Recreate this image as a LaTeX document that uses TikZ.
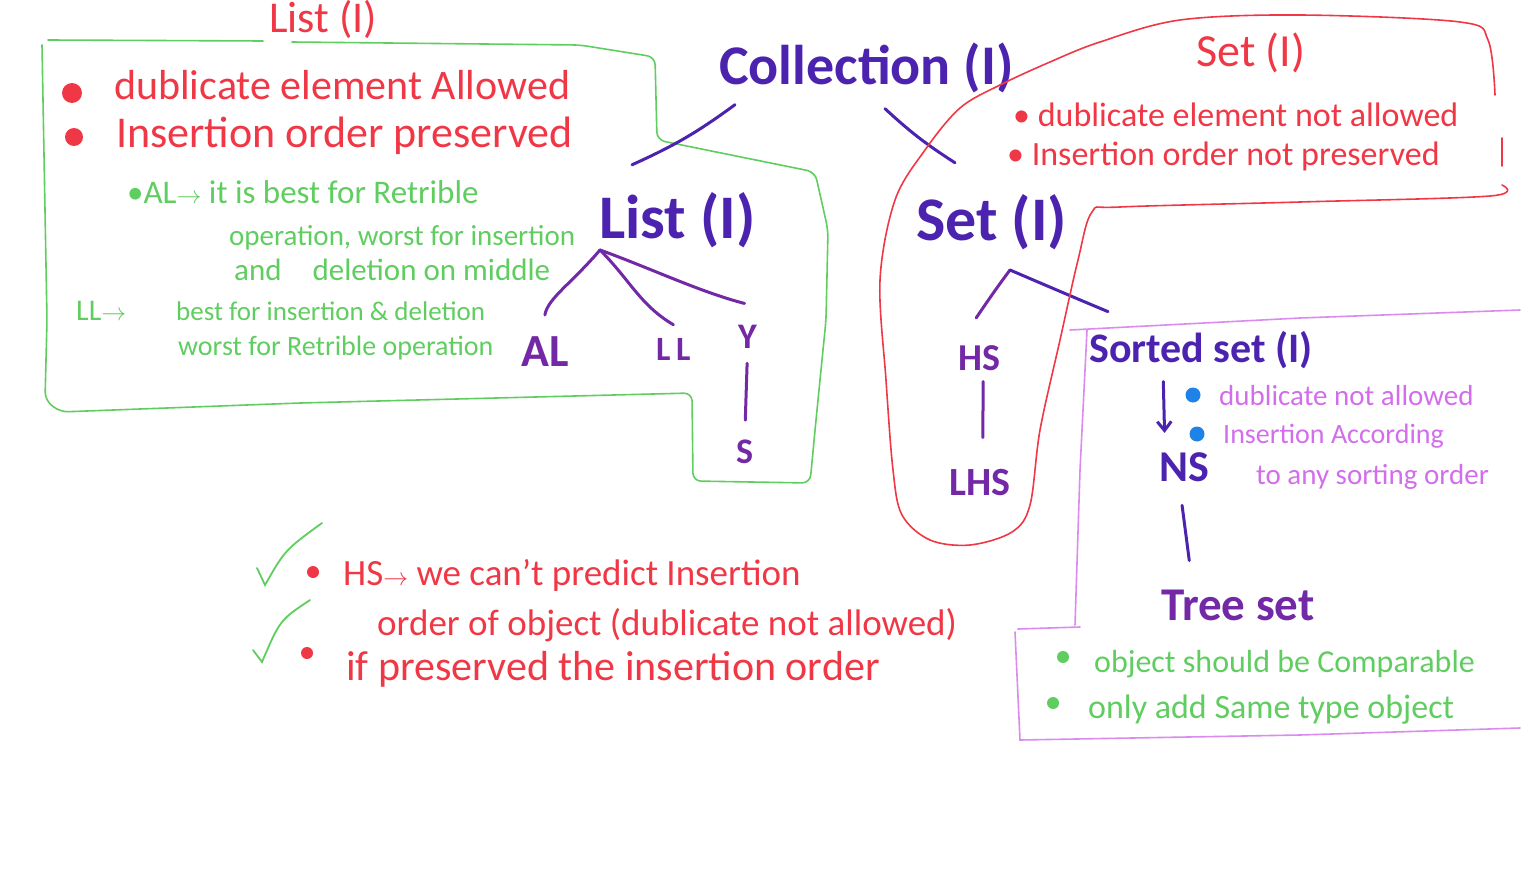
\documentclass[tikz,border=0pt]{standalone}
\usepackage{fontspec}
\setmainfont{Carlito}
\usepackage{xcolor}
\definecolor{penred}{RGB}{240,55,70}
\definecolor{pengreen}{RGB}{95,205,95}
\definecolor{penpurple}{RGB}{75,35,175}
\definecolor{penviolet}{RGB}{115,40,165}
\definecolor{penpink}{RGB}{210,110,235}
\definecolor{penblue}{RGB}{30,130,230}
\usepackage{tikz}
\usetikzlibrary{arrows.meta, positioning, calc}
\newcommand{\penfont}[1]{\fontsize{#1}{#1}\selectfont}
\tikzset{
  redtxt/.style={anchor=base west, inner sep=1pt, text=penred, font=\penfont{#1}},
  greentxt/.style={anchor=base west, inner sep=1pt, text=pengreen, font=\penfont{#1}},
  pinktxt/.style={anchor=base west, inner sep=1pt, text=penpink, font=\penfont{#1}},
  headtxt/.style={anchor=base west, inner sep=1pt, text=penpurple, font=\bfseries\penfont{#1}},
  leaftxt/.style={anchor=base west, inner sep=1pt, text=penviolet, font=\bfseries\penfont{#1}},
  pendot/.style={circle, fill=#1, inner sep=0pt, minimum size=12pt},
  branch/.style={line width=3pt, draw=penviolet, line cap=round, line join=round},
  headline/.style={line width=3pt, draw=penpurple, line cap=round},
  greenbox/.style={line width=1.6pt, draw=pengreen, line cap=round, rounded corners=8pt},
  redbox/.style={line width=1.6pt, draw=penred, line cap=round},
  pinkbox/.style={line width=1.6pt, draw=penpink!80, line cap=round},
  tick/.style={line width=1.8pt, draw=pengreen, line cap=round},
}

\begin{document}
\begin{tikzpicture}[x=1pt, y=-1pt]
  \useasboundingbox (0,0) rectangle (1536,872);

  % list (I) notes
  \node (listtitle) [redtxt=44]   at (268,33)  {List (I)};
  \node (rdot1)     [pendot=penred, minimum size=20pt] at (72,93) {};
  \node (rdot2)     [pendot=penred, minimum size=18pt] at (74,137) {};
  \node (ldupl)     [redtxt=42]   at (113,100) {dublicate element Allowed};
  \node (linsert)   [redtxt=44]   at (115,147) {Insertion order preserved};
  \node (alnote)    [greentxt=33] at (126,203) {•AL$\to$ it is best for Retrible};
  \node (alnote2)   [greentxt=29] at (228,245) {operation, worst for insertion};
  \node (alnote3)   [greentxt=31] at (233,280) {and\quad deletion on middle};
  \node (llnote)    [greentxt=30] at (75,320)  {LL$\to$};
  \node (llnote2)   [greentxt=27] at (175,320) {best for insertion \& deletion};
  \node (llnote3)   [greentxt=28] at (177,355) {worst for Retrible operation};

  \draw [greenbox] (48,40) -- (263,41);
  \draw [greenbox] (292,42) -- (580,45) -- (655,57) -- (657,140) -- (815,172)
    -- (828,230) -- (826,320) -- (816,420) -- (810,483) -- (693,481) -- (692,393)
    -- (300,403) -- (60,412) -- (45,400) -- (47,320) -- (42,45);

  % hierarchy
  \node (coll)   [headtxt=56] at (718,85)  {Collection (I)};
  \node (list)   [headtxt=62] at (598,238) {List (I)};
  \node (set)    [headtxt=62] at (915,240) {Set (I)};
  \node (al)     [leaftxt=46] at (520,366) {AL};
  \node (ll)     [leaftxt=34] at (655,360) {L\,L};
  \node (vec)    [leaftxt=36] at (737,348) {Y};
  \node (stack)  [leaftxt=36] at (735,463) {S};
  \node (hs)     [leaftxt=38] at (957,370) {HS};
  \node (lhs)    [leaftxt=40] at (948,495) {LHS};
  \node (sorted) [headtxt=42] at (1088,362) {Sorted set (I)};
  \node (ns)     [headtxt=44] at (1158,481) {NS};
  \node (tree)   [leaftxt=47] at (1160,620) {Tree set};

  \coordinate (lroot) at (600,250);
  \coordinate (sroot) at (1010,270);

  \draw [headline] ([xshift=17pt,yshift=-10pt]coll.south west) to[bend left=6] ([xshift=34pt,yshift=26pt]list.north west);
  \draw [headline] ([xshift=167pt,yshift=-14pt]coll.south west) to[bend right=5] ([xshift=40pt,yshift=30pt]set.north west);
  \draw [branch] (lroot) .. controls (570,285) and (548,298) .. ([yshift=20pt]al.north);
  \draw [branch] (lroot) .. controls (630,280) and (640,305) .. ([yshift=12pt]ll.north);
  \draw [branch] (lroot) .. controls (650,268) and (700,292) .. ([xshift=-3pt,yshift=20pt]vec.north);
  \draw [branch, shorten <=14pt, shorten >=18pt] (vec.south) -- (stack.north);
  \draw [branch] (sroot) .. controls (995,290) and (985,305) .. ([xshift=-3pt,yshift=26pt]hs.north);
  \draw [branch, draw=penpurple] (sroot) .. controls (1045,285) and (1080,300) .. ([xshift=20pt,yshift=18pt]sorted.north west);
  \draw [branch, shorten <=10pt, shorten >=30pt] ([xshift=4pt]hs.south) -- ([xshift=3pt]lhs.north);
  \draw [branch, draw=penpurple, -{Straight Barb[length=9pt,width=14pt]}, shorten <=12pt, shorten >=18pt]
    ([xshift=75pt]sorted.south west) -- ([xshift=7pt]ns.north west);
  \draw [branch, draw=penpurple, shorten <=23pt, shorten >=28pt] ([xshift=-5pt]ns.south) -- ([xshift=-45pt]tree.north);

  % set (I) notes
  \node (settitle) [redtxt=46] at (1195,67)  {Set (I)};
  \node (sdupl)    [redtxt=34] at (1012,127) {• dublicate element not allowed};
  \node (sinsert)  [redtxt=34] at (1006,165) {• Insertion order not preserved};
  \draw [redbox] plot[smooth, tension=0.55] coordinates {(1495,95) (1488,40) (1460,22)
    (1300,15) (1180,20) (1100,42) (1050,62) (1000,85) (960,108) (925,150) (895,200)
    (880,280) (886,380) (893,470) (902,515) (930,540) (970,545) (1012,532) (1030,505)
    (1040,430) (1060,340) (1078,260) (1092,212) (1120,207) (1300,202) (1490,196) (1502,185)};
  \draw [redbox] (1502,138) -- (1502,166);

  % sorted set notes
  \node (bdot1)   [pendot=penblue, minimum size=15pt] at (1193,395) {};
  \node (bdot2)   [pendot=penblue, minimum size=15pt] at (1197,434) {};
  \node (sortn1)  [pinktxt=29] at (1218,405) {dublicate not allowed};
  \node (sortn2)  [pinktxt=28] at (1222,443) {Insertion According};
  \node (sortn3)  [pinktxt=29] at (1255,484) {to any sorting order};
  \draw [pinkbox] (1070,330) -- (1300,318) -- (1520,310);
  \draw [pinkbox] (1087,330) -- (1080,470) -- (1075,625);
  \draw [pinkbox] (1018,629) -- (1080,627);
  \draw [pinkbox] (1015,632) -- (1020,740) -- (1300,735) -- (1520,728);

  % tree set notes
  \node (gdot1)  [pendot=pengreen] at (1063,657) {};
  \node (gdot2)  [pendot=pengreen] at (1053,703) {};
  \node (treen1) [greentxt=32] at (1093,672) {object should be Comparable};
  \node (treen2) [greentxt=34] at (1087,718) {only add Same type object};

  % hash set notes
  \draw [tick] (257,568) -- (265,585) .. controls (285,550) .. (322,523);
  \draw [tick] (253,650) -- (262,662) .. controls (280,620) .. (310,600);
  \node (rdot3)  [pendot=penred] at (313,572) {};
  \node (rdot4)  [pendot=penred] at (307,653) {};
  \node (hsn1)   [redtxt=37] at (342,585) {HS$\to$ we can't predict Insertion};
  \node (hsn2)   [redtxt=37] at (376,635) {order of object (dublicate not allowed)};
  \node (hsn3)   [redtxt=42] at (345,680) {if preserved the insertion order};
\end{tikzpicture}
\end{document}
